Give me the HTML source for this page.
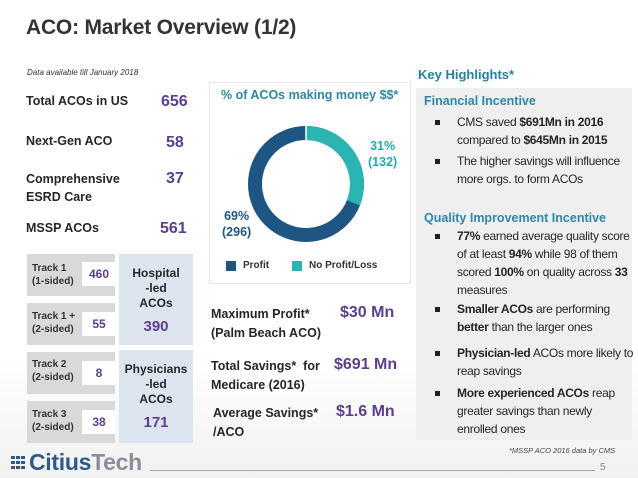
<!DOCTYPE html>
<html><head><meta charset="utf-8"><style>
body{margin:0;width:638px;height:478px;overflow:hidden;background:linear-gradient(180deg,#fff 0%,#fff 75%,#f1f1f1 100%);font-family:"Liberation Sans",sans-serif;position:relative}
.a{position:absolute;white-space:nowrap}
.b{font-weight:bold;color:#262626}
.p{color:#5b3f8c;font-weight:bold}
.t{color:#2e86a8;font-weight:bold}
.g{background:#d9d9d9;position:absolute}
.w{background:#fff;position:absolute;text-align:center;color:#5b3f8c;font-weight:bold;font-size:12px}
.bl{background:#dce4f0;position:absolute;text-align:center;font-weight:bold;color:#262626;font-size:12px;line-height:15px}
.tr{position:absolute;font-size:10px;font-weight:bold;color:#333;line-height:13px}
.r{font-size:12px;color:#262626;line-height:18px;letter-spacing:-0.3px}
.li{position:absolute;left:430px;width:204px;box-sizing:border-box;padding-left:27px;white-space:normal}
.li:before{content:"";position:absolute;left:5px;top:7px;width:5px;height:5px;background:#222}
</style></head><body>
<div class="a" style="left:26px;top:16px;font-size:21px;font-weight:bold;color:#333;letter-spacing:-0.2px">ACO: Market Overview (1/2)</div>
<div class="a" style="left:27px;top:68px;font-size:8px;font-style:italic;color:#333">Data available till January 2018</div>
<div class="a b" style="left:26px;top:94px;font-size:12.5px">Total ACOs in US</div>
<div class="a p" style="left:161px;top:93px;font-size:16px">656</div>
<div class="a b" style="left:26px;top:134px;font-size:12.5px">Next-Gen ACO</div>
<div class="a p" style="left:166px;top:134px;font-size:16px">58</div>
<div class="a b" style="left:26px;top:170px;font-size:12.5px;line-height:18px">Comprehensive<br>ESRD Care</div>
<div class="a p" style="left:166px;top:170px;font-size:16px">37</div>
<div class="a b" style="left:26px;top:221px;font-size:12.5px">MSSP ACOs</div>
<div class="a p" style="left:160px;top:220px;font-size:16px">561</div>

<div class="g" style="left:27px;top:254px;width:88px;height:42px"></div>
<div class="w" style="left:82px;top:262px;width:34px;height:24px;line-height:24px">460</div>
<div class="tr" style="left:32px;top:262px">Track 1<br>(1-sided)</div>
<div class="g" style="left:27px;top:303px;width:88px;height:42px"></div>
<div class="w" style="left:82px;top:312px;width:34px;height:24px;line-height:24px">55</div>
<div class="tr" style="left:32px;top:310px">Track 1 +<br>(2-sided)</div>
<div class="bl" style="left:119px;top:254px;width:74px;height:91px"><div style="margin-top:12px">Hospital<br>-led<br>ACOs</div><div style="color:#5b3f8c;font-size:15px;margin-top:8px">390</div></div>

<div class="g" style="left:27px;top:352px;width:88px;height:42px"></div>
<div class="w" style="left:82px;top:361px;width:34px;height:24px;line-height:24px">8</div>
<div class="tr" style="left:32px;top:358px">Track 2<br>(2-sided)</div>
<div class="g" style="left:27px;top:401px;width:88px;height:42px"></div>
<div class="w" style="left:82px;top:410px;width:34px;height:24px;line-height:24px">38</div>
<div class="tr" style="left:32px;top:408px">Track 3<br>(2-sided)</div>
<div class="bl" style="left:119px;top:350px;width:74px;height:93px"><div style="margin-top:12px">Physicians<br>-led<br>ACOs</div><div style="color:#5b3f8c;font-size:15px;margin-top:8px">171</div></div>

<div style="position:absolute;left:209px;top:82px;width:200px;height:200px;border:1px solid #e6e6e6;background:#fff"></div>
<div class="a t" style="left:221px;top:88px;font-size:12.5px">% of ACOs making money $$*</div>
<svg class="a" style="left:0;top:0" width="638" height="478">
<circle cx="306" cy="184" r="51" fill="none" stroke="#1f5582" stroke-width="14"/>
<circle cx="306" cy="184" r="51" fill="none" stroke="#2ab5b3" stroke-width="14" stroke-dasharray="99.3 400" transform="rotate(-90 306 184)"/>
<line x1="306" y1="126" x2="306" y2="141" stroke="#fff" stroke-width="1.5"/>
<rect x="226" y="261" width="10" height="10" fill="#1f5582"/>
<rect x="292" y="261" width="10" height="10" fill="#2ab5b3"/>
</svg>
<div class="a t" style="left:368px;top:138px;font-size:12.5px;line-height:16px;text-align:center;color:#2aa8b0">31%<br>(132)</div>
<div class="a" style="left:222px;top:208px;font-size:12.5px;line-height:16px;font-weight:bold;color:#1f5582;text-align:center">69%<br>(296)</div>
<div class="a" style="left:243px;top:260px;font-size:10px;font-weight:bold;color:#333">Profit</div>
<div class="a" style="left:309px;top:260px;font-size:10px;font-weight:bold;color:#333">No Profit/Loss</div>

<div class="a b" style="left:211px;top:305px;font-size:12.5px;line-height:19px">Maximum Profit*<br>(Palm Beach ACO)</div>
<div class="a p" style="left:340px;top:304px;font-size:16px">$30 Mn</div>
<div class="a b" style="left:211px;top:357px;font-size:12.5px;line-height:19px">Total Savings* &nbsp;for<br>Medicare (2016)</div>
<div class="a p" style="left:334px;top:356px;font-size:16px">$691 Mn</div>
<div class="a b" style="left:213px;top:404px;font-size:12.5px;line-height:19px">Average Savings*<br>/ACO</div>
<div class="a p" style="left:336px;top:403px;font-size:16px">$1.6 Mn</div>

<div class="a t" style="left:418px;top:67px;font-size:13px;color:#2a7fa0">Key Highlights*</div>
<div style="position:absolute;left:416px;top:88px;width:216px;height:352px;background:#efefef"></div>
<div class="a t" style="left:424px;top:94px;font-size:12.5px">Financial Incentive</div>
<div class="li r" style="top:113px">CMS saved <b>$691Mn in 2016</b> compared to <b>$645Mn in 2015</b></div>
<div class="li r" style="top:152px">The higher savings will influence more orgs. to form ACOs</div>
<div class="a t" style="left:424px;top:211px;font-size:12.5px">Quality Improvement Incentive</div>
<div class="li r" style="top:227px"><b>77%</b> earned average quality score of at least <b>94%</b> while 98 of them scored <b>100%</b> on quality across <b>33</b> measures</div>
<div class="li r" style="top:300px"><b>Smaller ACOs</b> are performing <b>better</b> than the larger ones</div>
<div class="li r" style="top:344px"><b>Physician-led</b> ACOs more likely to reap savings</div>
<div class="li r" style="top:384px"><b>More experienced ACOs</b> reap greater savings than newly enrolled ones</div>

<div class="a" style="left:509px;top:446px;font-size:7.5px;font-style:italic;color:#444">*MSSP ACO 2016 data by CMS</div>
<div class="a" style="left:600px;top:462px;font-size:10px;color:#888">5</div>
<div style="position:absolute;left:150px;top:470px;width:445px;height:1px;background:#aaa"></div>
<svg class="a" style="left:11px;top:455px" width="18" height="18"><g fill="#2d5a8c"><rect x="0" y="1" width="4" height="3"/><rect x="5" y="1" width="4" height="3"/><rect x="10" y="1" width="4" height="3"/><rect x="0" y="6" width="4" height="3"/><rect x="5" y="6" width="4" height="3"/><rect x="10" y="6" width="4" height="3"/><rect x="0" y="11" width="4" height="3"/><rect x="5" y="11" width="4" height="3"/><rect x="10" y="11" width="4" height="3"/></g></svg>
<div class="a" style="left:29px;top:449px;font-size:23px;font-weight:bold;color:#2d5a8c;letter-spacing:-0.3px">Citius<span style="color:#8a8f99">Tech</span></div>
</body></html>
